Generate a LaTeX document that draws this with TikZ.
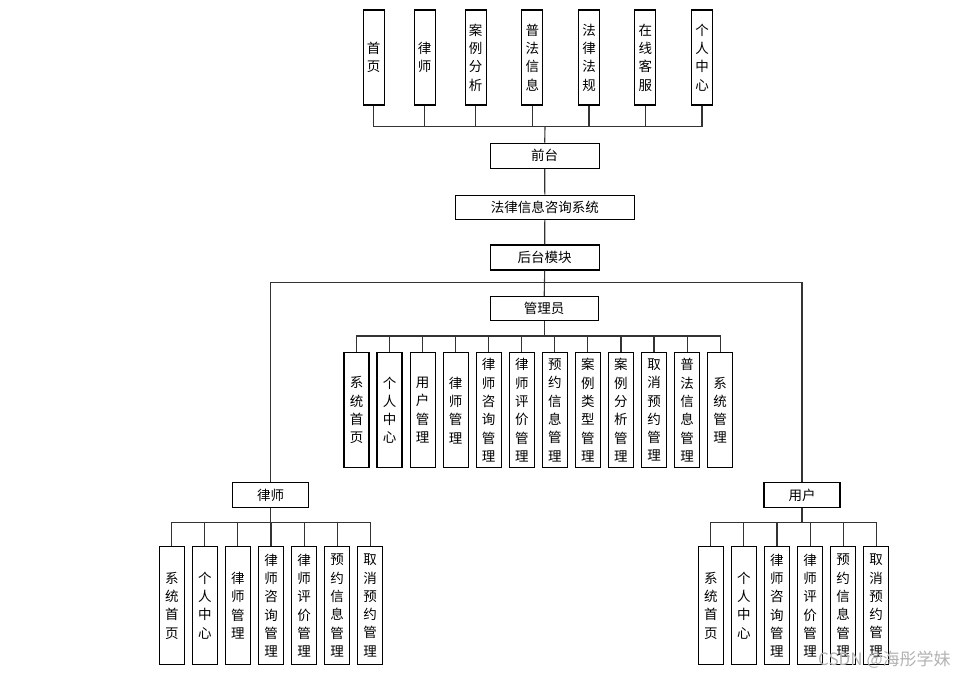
\documentclass[tikz,border=0pt]{standalone}
\usepackage{fontspec}
\newfontfamily\cjk{Noto Sans CJK SC}
\begin{document}
\begin{tikzpicture}[x=1pt,y=-1pt,
  every node/.style={font=\cjk\fontsize{13.5}{18.3}\selectfont, inner sep=0pt, align=center},
  hbox/.style={draw=black, line width=1.2pt, minimum height=25pt},
  vbox/.style={draw=black, line width=1.2pt, minimum width=21pt},
  cbox/.style={draw=black, line width=1.2pt, minimum width=25pt},
  conn/.style={draw=black!80, line width=1.1pt},
  wm/.style={font=\cjk\fontsize{17}{19}\selectfont, text=black!30}]
\useasboundingbox (0,0) rectangle (971,678);

% top level front-end children
\node[vbox, minimum height=95pt] (t1) at (373.7,57.5) {首\\页};
\node[vbox, minimum height=95pt] (t2) at (424.7,57.5) {律\\师};
\node[vbox, minimum height=95pt] (t3) at (475.7,57.5) {案\\例\\分\\析};
\node[vbox, minimum height=95pt] (t4) at (532.3,57.5) {普\\法\\信\\息};
\node[vbox, minimum height=95pt] (t5) at (589.0,57.5) {法\\律\\法\\规};
\node[vbox, minimum height=95pt] (t6) at (645.3,57.5) {在\\线\\客\\服};
\node[vbox, minimum height=95pt] (t7) at (702.0,57.5) {个\\人\\中\\心};

\node[hbox, minimum width=109pt] (qt) at (544.7,155.8) {前台};
\node[hbox, minimum width=179pt, minimum height=24pt] (sys) at (544.8,207.2) {法律信息咨询系统};
\node[hbox, minimum width=109pt] (ht) at (544.7,257.5) {后台模块};
\node[hbox, minimum width=108pt, minimum height=24pt] (gly) at (544.2,308.7) {管理员};
\node[hbox, minimum width=75.6pt] (ls) at (270.5,495) {律师};
\node[hbox, minimum width=76pt] (yh) at (802,495.2) {用户};

% admin children
\foreach \i/\t in {0/系\\统\\首\\页, 1/个\\人\\中\\心, 2/用\\户\\管\\理, 3/律\\师\\管\\理,
  4/律\\师\\咨\\询\\管\\理, 5/律\\师\\评\\价\\管\\理, 6/预\\约\\信\\息\\管\\理,
  7/案\\例\\类\\型\\管\\理, 8/案\\例\\分\\析\\管\\理, 9/取\\消\\预\\约\\管\\理,
  10/普\\法\\信\\息\\管\\理, 11/系\\统\\管\\理}
  \node[cbox, minimum height=115pt] (a\i) at ({356.5+33.06*\i},410.2) {\t};

% lawyer children
\foreach \i/\t in {0/系\\统\\首\\页, 1/个\\人\\中\\心, 2/律\\师\\管\\理,
  3/律\\师\\咨\\询\\管\\理, 4/律\\师\\评\\价\\管\\理, 5/预\\约\\信\\息\\管\\理,
  6/取\\消\\预\\约\\管\\理}
  \node[cbox, minimum height=117.6pt] (l\i) at ({171.8+33.07*\i},605.5) {\t};

% user children
\foreach \i/\t in {0/系\\统\\首\\页, 1/个\\人\\中\\心,
  2/律\\师\\咨\\询\\管\\理, 3/律\\师\\评\\价\\管\\理, 4/预\\约\\信\\息\\管\\理,
  5/取\\消\\预\\约\\管\\理}
  \node[cbox, minimum height=117.6pt] (u\i) at ({710.8+33.08*\i},605.5) {\t};

% connectors
\coordinate (topbus) at (545,126.7);
\foreach \n in {t1,t2,t3,t4,t5,t6,t7}
  \draw[conn] (\n.south) |- (topbus);
\draw[conn] (topbus) -- (qt.north);
\draw[conn] (qt.south) -- (sys.north);
\draw[conn] (sys.south) -- (ht.north);
\draw[conn] (ht.south) -- (gly.north);
\coordinate (split) at (544.7,282.3);
\draw[conn] (split) -| (ls.north);
\draw[conn] (split) -| (yh.north);

\coordinate (abus) at (544.2,336);
\draw[conn] (gly.south) -- (abus);
\foreach \i in {0,...,11}
  \draw[conn] (a\i.north) |- (abus);

\coordinate (lbus) at (270.5,522.7);
\draw[conn] (ls.south) -- (lbus);
\foreach \i in {0,...,6}
  \draw[conn] (l\i.north) |- (lbus);

\coordinate (ubus) at (802,522.7);
\draw[conn] (yh.south) -- (ubus);
\foreach \i in {0,...,5}
  \draw[conn] (u\i.north) |- (ubus);

\node[wm, anchor=west] (wmark) at (818,660) {CSDN @海彤学妹};
\end{tikzpicture}
\end{document}
